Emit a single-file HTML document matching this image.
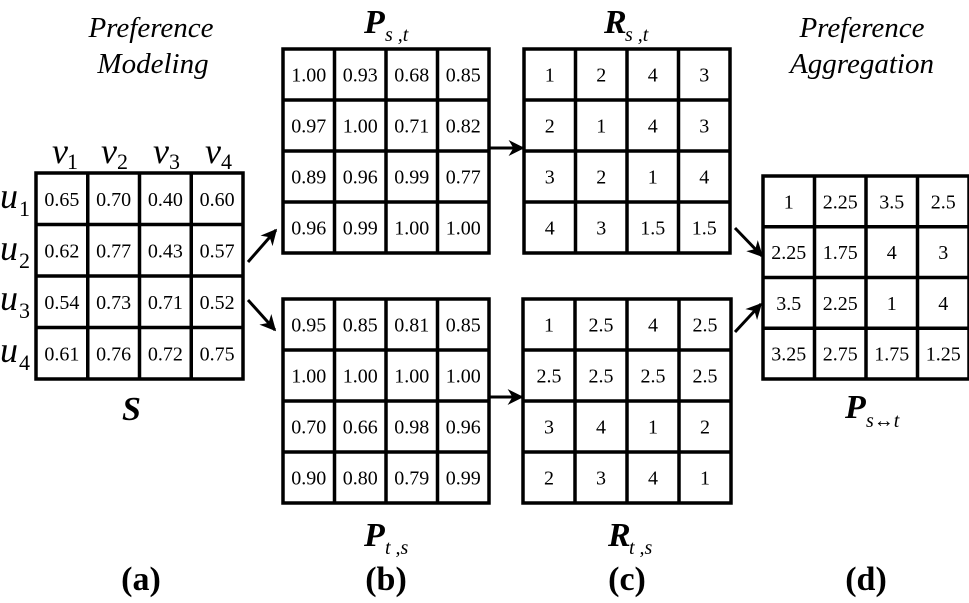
<!DOCTYPE html>
<html><head><meta charset="utf-8"><style>
html,body{margin:0;padding:0;background:#fff;}
svg{display:block;}
text{font-family:"Liberation Serif","Times New Roman",serif;fill:#000;}
</style></head><body>
<svg width="969" height="603" viewBox="0 0 969 603" xmlns="http://www.w3.org/2000/svg">
<defs>
<marker id="ah" viewBox="0 0 10 10" refX="9" refY="5" markerWidth="18" markerHeight="16" orient="auto" markerUnits="userSpaceOnUse">
<path d="M0,0 L10,5 L0,10 L3,5 Z" fill="#000"/>
</marker>
</defs>
<script>
(function(){
const ns="http://www.w3.org/2000/svg";
const svg=document.querySelector('svg');
function grid(x0,y0,x1,y1,vals){
 const w=(x1-x0)/4,h=(y1-y0)/4;
 const r=document.createElementNS(ns,'rect');
 r.setAttribute('x',x0);r.setAttribute('y',y0);r.setAttribute('width',x1-x0);r.setAttribute('height',y1-y0);
 r.setAttribute('fill','none');r.setAttribute('stroke','#000');r.setAttribute('stroke-width','3.5');svg.appendChild(r);
 for(let i=1;i<4;i++){
  let l=document.createElementNS(ns,'line');l.setAttribute('x1',x0+w*i);l.setAttribute('x2',x0+w*i);l.setAttribute('y1',y0);l.setAttribute('y2',y1);l.setAttribute('stroke','#000');l.setAttribute('stroke-width','3.5');svg.appendChild(l);
  l=document.createElementNS(ns,'line');l.setAttribute('y1',y0+h*i);l.setAttribute('y2',y0+h*i);l.setAttribute('x1',x0);l.setAttribute('x2',x1);l.setAttribute('stroke','#000');l.setAttribute('stroke-width','3.5');svg.appendChild(l);
 }
 for(let r2=0;r2<4;r2++)for(let c=0;c<4;c++){
  const t=document.createElementNS(ns,'text');
  t.setAttribute('x',x0+w*c+w/2);t.setAttribute('y',y0+h*r2+h/2+7);
  t.setAttribute('text-anchor','middle');t.setAttribute('font-size','20');
  t.textContent=vals[r2][c];svg.appendChild(t);
 }
}
grid(36,173,243,379,[["0.65","0.70","0.40","0.60"],["0.62","0.77","0.43","0.57"],["0.54","0.73","0.71","0.52"],["0.61","0.76","0.72","0.75"]]);
grid(283,49,489,253,[["1.00","0.93","0.68","0.85"],["0.97","1.00","0.71","0.82"],["0.89","0.96","0.99","0.77"],["0.96","0.99","1.00","1.00"]]);
grid(283,299,489,503,[["0.95","0.85","0.81","0.85"],["1.00","1.00","1.00","1.00"],["0.70","0.66","0.98","0.96"],["0.90","0.80","0.79","0.99"]]);
grid(524,49,730,253,[["1","2","4","3"],["2","1","4","3"],["3","2","1","4"],["4","3","1.5","1.5"]]);
grid(523,299,731,503,[["1","2.5","4","2.5"],["2.5","2.5","2.5","2.5"],["3","4","1","2"],["2","3","4","1"]]);
grid(763,176,969,379,[["1","2.25","3.5","2.5"],["2.25","1.75","4","3"],["3.5","2.25","1","4"],["3.25","2.75","1.75","1.25"]]);
})();
</script>
<g stroke="#000" stroke-width="3" marker-end="url(#ah)">
<line x1="248" y1="262" x2="276" y2="230"/>
<line x1="248" y1="300" x2="275" y2="330"/>
<line x1="489" y1="148" x2="523" y2="148"/>
<line x1="489" y1="397" x2="522" y2="397"/>
<line x1="735" y1="228" x2="762" y2="256"/>
<line x1="735" y1="332" x2="761" y2="304"/>
</g>
<g font-style="italic" font-size="29">
<text x="151" y="37" text-anchor="middle">Preference</text>
<text x="153" y="73" text-anchor="middle">Modeling</text>
<text x="862" y="37" text-anchor="middle">Preference</text>
<text x="862" y="73" text-anchor="middle">Aggregation</text>
</g>
<g font-style="italic" font-size="36">
<text x="52" y="163">v</text><text x="67" y="169" font-size="22" font-style="normal">1</text>
<text x="101" y="163">v</text><text x="117" y="169" font-size="22" font-style="normal">2</text>
<text x="153" y="163">v</text><text x="169" y="169" font-size="22" font-style="normal">3</text>
<text x="205" y="163">v</text><text x="221" y="169" font-size="22" font-style="normal">4</text>
<text x="0" y="208">u</text><text x="19" y="216" font-size="22" font-style="normal">1</text>
<text x="0" y="260">u</text><text x="19" y="268" font-size="22" font-style="normal">2</text>
<text x="0" y="310">u</text><text x="19" y="318" font-size="22" font-style="normal">3</text>
<text x="0" y="362">u</text><text x="19" y="370" font-size="22" font-style="normal">4</text>
</g>
<g font-weight="bold" font-style="italic" font-size="34">
<text x="122" y="420">S</text>
<text x="364" y="33">P</text><text x="385" y="41" font-size="20" font-weight="normal">s ,t</text>
<text x="364" y="546">P</text><text x="385" y="554" font-size="20" font-weight="normal">t ,s</text>
<text x="604" y="33">R</text><text x="625" y="41" font-size="20" font-weight="normal">s ,t</text>
<text x="608" y="546">R</text><text x="629" y="554" font-size="20" font-weight="normal">t ,s</text>
<text x="845" y="418">P</text><text x="866" y="427" font-size="20" font-weight="normal">s↔t</text>
</g>
<g font-weight="bold" font-size="34">
<text x="141" y="590" text-anchor="middle">(a)</text>
<text x="386" y="590" text-anchor="middle">(b)</text>
<text x="627" y="590" text-anchor="middle">(c)</text>
<text x="866" y="590" text-anchor="middle">(d)</text>
</g>
</svg>
</body></html>
